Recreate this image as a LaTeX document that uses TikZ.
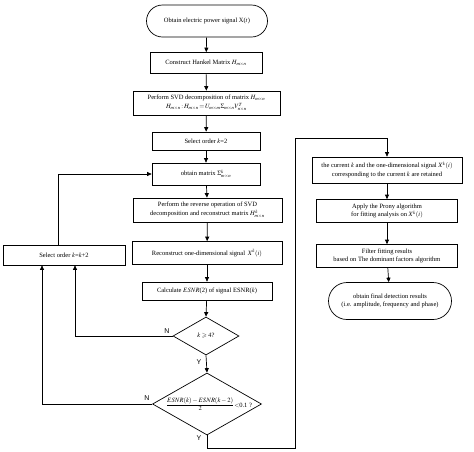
\documentclass[tikz,border=0pt]{standalone}
\usepackage{amssymb}
\usepackage{mathptmx}
\usepackage{fontspec}
\setmainfont{Liberation Serif}
\newfontfamily\labfont{Liberation Sans}
\usetikzlibrary{arrows.meta,shapes.misc,shapes.geometric}
\begin{document}
\begin{tikzpicture}[x=1pt,y=-1pt,
  every node/.style={font=\fontsize{6.5}{8.6}\selectfont, align=center, inner sep=1pt},
  box/.style={draw, line width=0.7pt, rectangle},
  term/.style={draw, line width=0.7pt, rounded rectangle},
  dia/.style={draw, line width=0.7pt, diamond, inner sep=0pt},
  arr/.style={line width=0.7pt, -{Triangle[length=4.5pt,width=4pt]}},
  yn/.style={font=\labfont\fontsize{7}{8}\selectfont, inner sep=0pt}]
\useasboundingbox (0,0) rectangle (474,451);

\node[term, minimum width=123pt, minimum height=32pt] (start) at (207,21) {Obtain electric power signal X($t$)};
\node[box, minimum width=112pt, minimum height=21pt] (hankel) at (206,63) {Construct Hankel Matrix $H_{m\times n}$};
\node[box, minimum width=147pt, minimum height=24pt] (svd) at (206.5,103) {Perform SVD decomposition of matrix $H_{m\times n}$\\[0.5pt] $H_{m\times n}\!:\!H_{m\times n}\!=\!U_{m\times m}\Sigma_{m\times n}V^{T}_{n\times n}$};
\node[box, minimum width=108pt, minimum height=18pt] (sel2) at (206,141) {Select order $k$=2};
\node[box, minimum width=108pt, minimum height=22pt] (obt) at (206,174) {obtain matrix $\Sigma^{k}_{m\times n}$};
\node[box, minimum width=149pt, minimum height=24pt] (rev) at (207.5,210) {Perform the reverse operation of SVD\\[0.5pt] decomposition and reconstruct matrix $H^{k}_{m\times n}$};
\node[box, minimum width=150pt, minimum height=23pt] (recon) at (207,253) {Reconstruct one-dimensional signal\, $X^{k}(i)$};
\node[box, minimum width=130pt, minimum height=18pt] (calc) at (207,291) {Calculate $ESNR$(2) of signal ESNR($k$)};
\node[dia, minimum width=66pt, minimum height=38pt] (d1) at (206,336) {};
\node (d1t) at (d1.center) {$k\geqslant4$?};
\node[dia, minimum width=109pt, minimum height=62pt] (d2) at (207,404) {};
\node (d2t) at ([xshift=2pt]d2.center) {$\displaystyle\frac{ESNR(k)-ESNR(k-2)}{2}$\raisebox{-1.5pt}{$<$0.1 ?}};

\node[box, minimum width=122pt, minimum height=20pt] (selk) at (64,255) {Select order $k$=$k$+2};

\node[box, minimum width=150pt, minimum height=26pt] (cur) at (387,170) {the current $k$ and the one-dimensional signal $X^{k}(i)$\\ corresponding to the current $k$ are retained};
\node[box, minimum width=141pt, minimum height=23pt] (prony) at (387,211) {Apply the Prony algorithm\\ for fitting analysis on $X^{k}(i)$};
\node[box, minimum width=141pt, minimum height=23pt] (filter) at (387,256) {Filter fitting results\\ based on The dominant factors algorithm};
\node[term, minimum width=125pt, minimum height=37pt] (final) at (390,301) {obtain final detection results\\ (i.e. amplitude, frequency and phase)};

\coordinate (bl) at (295,448);
\coordinate (tl) at (295,138);

\draw[arr] (start) -- (hankel);
\draw[arr] (hankel) -- (svd);
\draw[arr] (svd) -- (sel2);
\draw[arr] (sel2) -- (obt);
\draw[arr] (obt) -- (rev);
\draw[arr] (rev) -- (recon);
\draw[arr] (recon) -- (calc);
\draw[arr] (calc) -- (d1.north);
\draw[arr] (d1.south) -- (d2.north);
\draw[arr] (d1.west) -| ([xshift=11pt]selk.south);
\draw[arr] (d2.west) -| ([xshift=-22pt]selk.south);
\draw[arr] ([xshift=-6pt]selk.north) |- (obt.west);
\draw[arr] (d2.south) |- (bl) -- (tl) -| (cur.north);
\draw[arr] (cur) -- (prony);
\draw[arr] (prony) -- (filter);
\draw[arr] (filter) -- (final);

\node[yn] (n1) at (167,331) {N};
\node[yn] (n2) at (147,398) {N};
\node[yn] (y1) at (199,362) {Y};
\node[yn] (y2) at (199,438) {Y};
\end{tikzpicture}
\end{document}
